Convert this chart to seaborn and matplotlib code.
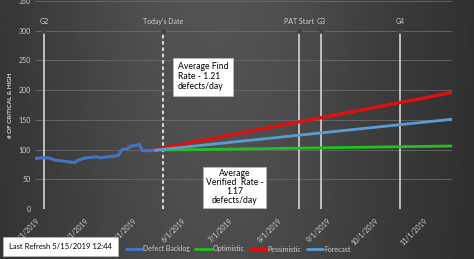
import matplotlib
matplotlib.use('Agg')
import matplotlib.pyplot as plt
import seaborn as sns
import numpy as np
import pandas as pd

# defect backlog history
backlog_dates = ['2019-02-28', '2019-03-04', '2019-03-09', '2019-03-11', '2019-03-13', '2019-03-17',
                 '2019-03-20', '2019-03-25', '2019-03-27', '2019-04-01', '2019-04-05', '2019-04-08',
                 '2019-04-10', '2019-04-13', '2019-04-16', '2019-04-20', '2019-04-22', '2019-04-24',
                 '2019-04-27', '2019-04-30', '2019-05-03', '2019-05-05', '2019-05-07', '2019-05-10',
                 '2019-05-15']
backlog_values = [85, 86, 86, 84, 82, 81, 80, 78, 82, 86, 87, 88, 86, 87, 88, 89, 91, 100,
                  101, 106, 107, 109, 98, 98, 99]

# forecasts
forecast_dates = ['2019-05-15', '2019-11-19']
optimistic = [99, 106]
pessimistic = [100, 196]
forecast = [99, 151]

# milestones
milestone_names = ['G2', "Today's Date", 'PAT Start', 'G3', 'G4']
milestone_dates = ['2019-03-06', '2019-05-20', '2019-08-14', '2019-08-28', '2019-10-17']

month_ticks = pd.date_range('2019-03-01', '2019-11-01', freq='MS')

sns.set_style('dark')
plt.rcParams['font.family'] = ['Lato', 'DejaVu Sans']

fig = plt.figure(figsize=(4.74, 2.59), dpi=100)

# gradient background
bg = fig.add_axes([0, 0, 1, 1], zorder=-5)
xx = np.linspace(0, 1, 300)
yy = np.linspace(0, 1, 160)
X, Y = np.meshgrid(xx, yy)
shade = 0.17 + 0.16 * np.exp(-((X - 0.45) / 0.4) ** 2) * (1 - 0.2 * Y)
bg.imshow(shade, cmap='gray', vmin=0, vmax=1, aspect='auto', extent=[0, 1, 0, 1])
bg.set_axis_off()

ax = fig.add_axes([35 / 474, 50 / 259, 417 / 474, 208 / 259])
ax.patch.set_alpha(0)

bl = pd.DataFrame({'date': pd.to_datetime(backlog_dates), 'value': backlog_values})
fc = pd.DataFrame({'date': pd.to_datetime(forecast_dates), 'opt': optimistic,
                   'pes': pessimistic, 'fc': forecast})

sns.lineplot(data=bl, x='date', y='value', ax=ax, color='#4472c4', lw=2.2,
             label='Defect Backlog', zorder=4)
sns.lineplot(data=fc, x='date', y='opt', ax=ax, color='#22c022', lw=2,
             label='Optimistic', zorder=4)
sns.lineplot(data=fc, x='date', y='pes', ax=ax, color='#e01010', lw=2.4,
             label='Pessimistic', zorder=4)
sns.lineplot(data=fc, x='date', y='fc', ax=ax, color='#5b9bd5', lw=2,
             label='Forecast', zorder=4)

# milestone lines
for name, d in zip(milestone_names, pd.to_datetime(milestone_dates)):
    if name == "Today's Date":
        ax.plot([d, d], [0, 300], color='#e6e6e6', lw=1.3, ls=(0, (2, 1.5)), zorder=3)
    else:
        ax.plot([d, d], [0, 300], color='#c8c8c8', lw=1.3, zorder=3)
    ax.plot([d], [300], marker='o', ms=2.5, color='#444444', zorder=3)
    ax.text(d, 316, name, color='#d0d0d0', fontsize=5, ha='center', va='center')

ax.set_ylim(0, 350)
ax.set_xlim(pd.Timestamp('2019-02-28'), pd.Timestamp('2019-11-19'))
ax.set_yticks(range(0, 351, 50))
ax.set_xticks(month_ticks)
ax.set_xticklabels([f'{d.month}/{d.day}/{d.year}' for d in month_ticks],
                   rotation=45, ha='right', rotation_mode='anchor')
ax.grid(axis='y', color='#6a6a6a', lw=0.6)
ax.grid(axis='x', visible=False)
ax.tick_params(axis='both', colors='#cfcfcf', labelsize=5, length=0)
ax.tick_params(axis='x', pad=6)
ax.tick_params(axis='y', pad=3)
for s in ax.spines.values():
    s.set_visible(False)
ax.set_xlabel('')
ax.set_ylabel('# OF CRITICAL & HIGH', color='#d8d8d8', fontsize=4.5, fontweight='bold',
              labelpad=4)

box = dict(boxstyle='square,pad=0.55', facecolor='white', edgecolor='#bbbbbb', lw=0.5)
ax.text(0.343, 0.705, 'Average Find\nRate - 1.21\ndefects/day', transform=ax.transAxes,
        fontsize=6.2, color='black', ha='left', va='top', linespacing=1.15, bbox=box, zorder=6)
ax.text(0.479, 0.19, 'Average\nVerified  Rate -\n1.17\ndefects/day', transform=ax.transAxes,
        fontsize=6.2, color='black', ha='center', va='top', linespacing=1.0,
        bbox=dict(boxstyle='square,pad=0.3', facecolor='white', edgecolor='#bbbbbb', lw=0.5),
        zorder=6)

fig.text(9 / 474, 12.5 / 259, 'Last Refresh 5/15/2019 12:44', fontsize=5.5, color='black',
         ha='left', va='center',
         bbox=dict(boxstyle='square,pad=0.75', facecolor='white', edgecolor='#bbbbbb', lw=0.5))

ax.get_legend().remove()
handles, labels = ax.get_legend_handles_labels()
leg = fig.legend(handles, labels, loc='center', bbox_to_anchor=(238 / 474, 10 / 259), ncol=4,
                 frameon=False, fontsize=5, handlelength=2.4, columnspacing=0.8,
                 handletextpad=0.1)
for t in leg.get_texts():
    t.set_color('#cfcfcf')

fig.savefig('out.png', dpi=100)
